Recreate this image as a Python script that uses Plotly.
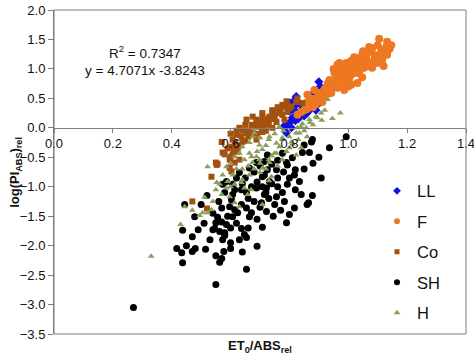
import plotly.graph_objects as go

# ---- data ----
ll_x = [0.900,0.885,0.875,0.890,0.878,0.895,0.868,0.823,0.840,0.827,0.810,0.800,0.807,0.790,0.793,
        0.850,0.861,0.890,0.908,0.834,0.817,0.823,0.800,0.905,0.880,0.870,0.860,0.850,0.815,0.820,
        0.800,0.830,0.895,0.910,0.780]
ll_y = [0.78,0.61,0.53,0.47,0.42,0.39,0.30,0.39,0.30,0.22,0.17,0.085,0.00,-0.085,0.05,
        0.36,0.44,0.30,0.44,0.42,0.47,0.53,0.42,0.70,0.56,0.35,0.25,0.20,0.30,0.12,
        0.28,0.15,0.52,0.60,0.02]

f_x = [1.105,1.132,1.146,1.129,1.071,1.081,1.112,1.122,1.132,1.105,1.064,1.047,1.037,1.061,1.088,
       1.115,1.098,1.071,1.044,1.027,1.014,1.003,1.031,1.054,1.081,0.993,0.970,0.963,0.986,1.010,
       1.031,1.047,1.031,0.970,0.953,0.959,0.976,0.993,1.010,0.946,0.936,0.925,0.963,0.986,0.912,
       0.942,0.919,0.908,0.912,1.003,0.936,0.902,0.890,0.875,0.857,0.840,0.827,0.942,0.885,0.980,
       0.925,0.912,0.861,0.857,1.020,1.050,1.090,1.100,1.120,1.080,1.000,0.990,1.020,1.040,0.960,
       0.950,0.970,0.930,0.900,0.920,0.880,0.870,0.890,0.940,0.980,1.010,1.060,1.140,1.070,0.950,
       0.980,1.000,0.850,0.860,0.880,0.910,0.930,0.960,1.050]
f_y = [1.51,1.46,1.40,1.37,1.37,1.35,1.32,1.27,1.24,1.24,1.27,1.24,1.18,1.15,1.15,
       1.15,1.10,1.10,1.10,1.10,1.03,0.98,1.02,1.02,1.02,1.10,1.10,1.07,0.93,0.90,
       0.93,0.86,0.76,0.95,0.93,0.81,0.78,0.76,0.73,0.76,0.69,0.68,0.68,0.64,0.61,
       0.59,0.53,0.47,0.44,0.81,0.81,0.59,0.50,0.42,0.36,0.27,0.22,0.68,0.64,0.85,
       0.64,0.56,0.56,0.42,1.20,1.30,1.22,1.40,1.05,1.28,1.00,0.88,0.96,0.98,0.88,
       0.70,0.72,0.75,0.55,0.66,0.45,0.50,0.40,0.62,1.02,1.14,1.20,1.34,1.05,1.00,
       0.96,0.70,0.30,0.32,0.35,0.50,0.58,0.80,1.08]

co_x = [0.776,0.823,0.844,0.807,0.766,0.742,0.732,0.708,0.688,0.671,0.698,0.725,0.756,0.783,0.776,
        0.793,0.675,0.708,0.742,0.688,0.654,0.675,0.708,0.742,0.630,0.654,0.637,0.640,0.620,0.607,
        0.603,0.624,0.624,0.607,0.597,0.614,0.597,0.570,0.573,0.553,0.603,0.535,0.688,0.722,0.708,
        0.827,0.793,0.783,0.556,0.600,0.630,0.470,0.520,0.550,0.750,0.760,0.720,0.700,0.680,0.660,
        0.650,0.640,0.660,0.690,0.720,0.730,0.760,0.790,0.800,0.770,0.740,0.710,0.630,0.615,0.590,
        0.580,0.610,0.650,0.620,0.600]
co_y = [0.39,0.44,0.42,0.36,0.30,0.27,0.19,0.19,0.14,0.05,0.02,0.05,0.10,0.14,0.22,
        0.27,-0.085,-0.07,0.00,-0.20,0.14,0.19,0.25,0.30,0.00,-0.085,-0.15,-0.24,-0.12,-0.20,
        -0.32,-0.32,-0.41,-0.46,-0.54,-0.59,-0.68,-0.24,-0.42,-0.63,-0.74,-0.83,0.10,0.085,-0.03,
        0.50,0.39,0.36,-0.61,-0.49,-0.54,-1.25,-1.37,-0.59,0.20,0.35,0.15,0.10,0.02,-0.05,
        0.05,-0.05,-0.15,-0.10,-0.05,0.10,0.25,0.45,0.33,0.28,0.15,0.05,-0.30,-0.25,-0.35,
        -0.45,-0.38,-0.22,-0.05,-0.10]

sh_x = [0.270,0.417,0.434,0.437,0.470,0.480,0.515,0.550,0.550,0.563,0.570,0.577,0.600,0.640,0.654,
        0.580,0.580,0.690,0.444,0.520,0.478,0.437,0.490,0.546,0.550,0.563,0.580,0.586,0.573,0.637,
        0.647,0.654,0.708,0.790,0.800,0.817,0.860,0.878,0.840,0.783,0.776,0.756,0.760,0.793,0.834,
        0.715,0.722,0.705,0.671,0.664,0.654,0.637,0.624,0.607,0.614,0.597,0.603,0.607,0.614,0.607,
        0.573,0.586,0.570,0.556,0.637,0.654,0.671,0.688,0.708,0.732,0.630,0.664,0.688,0.715,0.725,
        0.776,0.810,0.793,0.820,0.756,0.715,0.844,0.868,0.908,0.865,0.722,0.993,0.936,0.850,0.875,
        0.790,0.725,0.708,0.817,0.878,0.540,0.650,0.680,0.700,0.740,0.760,0.780,0.800,0.740,0.690,
        0.660,0.680,0.700,0.730,0.750,0.770,0.690,0.620,0.600,0.530,0.510,0.470,0.630,0.660,0.745,
        0.820,0.850,0.880,0.900,0.760,0.720,0.640,0.620,0.580,0.560,0.540,0.500,0.570,0.590,0.450,
        0.600]
sh_y = [-3.05,-2.05,-2.12,-2.29,-2.10,-2.05,-2.06,-2.66,-2.17,-2.28,-2.22,-2.10,-1.95,-2.11,-2.40,
        -1.83,-1.78,-2.01,-1.30,-1.15,-1.51,-1.74,-1.73,-1.71,-1.61,-1.76,-1.81,-1.64,-1.90,-1.71,
        -1.81,-1.86,-1.69,-1.61,-1.47,-1.36,-1.30,-1.15,-1.13,-1.25,-1.10,-1.17,-1.00,-0.96,-0.91,
        -1.13,-1.42,-1.27,-1.44,-1.51,-1.36,-1.30,-1.44,-1.51,-1.39,-1.34,-1.22,-1.13,-1.05,-0.96,
        -0.96,-0.91,-1.36,-1.52,-1.05,-1.10,-1.00,-1.02,-1.00,-0.91,-0.76,-0.68,-0.59,-0.57,-0.46,
        -0.43,-0.51,-0.63,-0.71,-0.71,-0.80,-0.42,-0.42,-0.85,-1.27,-1.02,-0.15,-0.34,-0.29,-0.24,
        -0.59,-0.71,-0.83,-0.80,-0.20,-1.73,-0.85,-0.75,-0.65,-0.62,-0.55,-0.75,-0.85,-0.95,-0.92,
        -1.20,-1.25,-1.35,-1.20,-1.30,-1.40,-1.55,-1.62,-1.70,-1.90,-1.62,-1.85,-1.90,-1.70,-1.50,
        -1.05,-0.70,-0.60,-0.50,-0.85,-1.10,-0.95,-0.85,-1.10,-1.25,-1.45,-1.30,-1.60,-1.50,-2.00,
        -2.05]

h_x = [0.930,0.973,0.946,0.910,0.890,0.870,0.840,0.823,0.800,0.776,0.756,0.730,0.700,0.675,0.708,
       0.756,0.800,0.776,0.823,0.840,0.730,0.688,0.664,0.640,0.614,0.586,0.573,0.522,0.700,0.664,
       0.908,0.895,0.868,0.844,0.857,0.827,0.834,0.807,0.776,0.732,0.698,0.607,0.630,0.647,0.671,
       0.675,0.698,0.708,0.732,0.749,0.766,0.681,0.664,0.766,0.739,0.640,0.614,0.590,0.586,0.553,
       0.647,0.444,0.430,0.505,0.522,0.535,0.512,0.570,0.614,0.630,0.563,0.597,0.637,0.708,0.658,
       0.330,0.495,0.780,0.750,0.720,0.690,0.740,0.790,0.810,0.860,0.880,0.920,0.850,0.830,0.700,
       0.660,0.620,0.600,0.640,0.680,0.720,0.760,0.550,0.470,0.540,0.600,0.670,0.730]
h_y = [0.48,0.25,0.16,0.13,0.19,0.09,0.02,-0.09,-0.15,-0.20,-0.26,-0.20,-0.17,-0.15,-0.37,
       -0.43,-0.34,-0.54,-0.46,-0.34,-0.54,-0.49,-0.43,-0.32,-0.49,-0.66,-0.80,-0.66,-0.76,-0.80,
       0.25,0.17,0.14,0.07,0.00,0.00,-0.09,-0.24,-0.17,-0.15,-0.29,-0.80,-0.43,-0.54,-0.49,
       -0.59,-0.54,-0.68,-0.59,-0.43,-0.32,-0.085,-0.25,0.02,-0.83,-0.88,-0.96,-0.91,-1.02,-0.93,
       -1.02,-1.34,-1.64,-1.44,-1.44,-1.39,-1.18,-1.13,-1.27,-1.34,-0.96,-1.17,-0.93,-1.30,-1.13,
       -2.18,-1.49,-0.05,-0.10,-0.30,-0.40,-0.48,-0.40,-0.28,-0.15,0.05,0.30,-0.05,-0.20,-0.60,
       -0.65,-0.70,-0.60,-0.70,-0.70,-0.70,-0.65,-1.05,-1.40,-1.25,-1.00,-1.05,-0.90]

series_names = ["LL", "F", "Co", "SH", "H"]
x_ticks = [0.0, 0.2, 0.4, 0.6, 0.8, 1.0, 1.2, 1.4]
y_ticks = [2.0, 1.5, 1.0, 0.5, 0.0, -0.5, -1.0, -1.5, -2.0, -2.5, -3.0, -3.5]
fit_text = "R<sup>2</sup> = 0.7347<br>y = 4.7071x -3.8243"

FONT = "Liberation Sans, Arial, sans-serif"
TXT = "#111111"
AXC = "#7f7f7f"

styles = [
    dict(symbol="diamond", size=7, lsize=6, color="#1010E0"),
    dict(symbol="circle", size=8, lsize=6, color="#EE7722"),
    dict(symbol="square", size=6, lsize=5, color="#A3510F"),
    dict(symbol="circle", size=7, lsize=6, color="#000000"),
    dict(symbol="triangle-up", size=6, lsize=6, color="#8A9F5C"),
]
xs = [ll_x, f_x, co_x, sh_x, h_x]
ys = [ll_y, f_y, co_y, sh_y, h_y]

fig = go.Figure()
for name, x, y, st in zip(series_names, xs, ys, styles):
    fig.add_trace(go.Scatter(
        x=x, y=y, mode="markers", name=name, legendgroup=name, showlegend=False,
        marker=dict(symbol=st["symbol"], size=st["size"], color=st["color"], line=dict(width=0)),
    ))
# legend entries with the small symbols used in the reference legend
for name, st in zip(series_names, styles):
    fig.add_trace(go.Scatter(
        x=[None], y=[None], mode="markers", name=name, legendgroup=name, showlegend=True,
        marker=dict(symbol=st["symbol"], size=st["lsize"], color=st["color"], line=dict(width=0)),
    ))

fig.update_layout(
    width=474, height=354,
    margin=dict(l=54, r=8, t=10, b=20),
    paper_bgcolor="white", plot_bgcolor="white",
    font=dict(family=FONT, size=13, color=TXT),
    showlegend=True,
    legend=dict(x=0.784, y=0.495, xanchor="left", yanchor="top",
                font=dict(family=FONT, size=16.5, color=TXT),
                traceorder="grouped", tracegroupgap=6, bgcolor="rgba(0,0,0,0)"),
    xaxis=dict(range=[0, 1.4], tickvals=x_ticks, tickformat=".1f",
               anchor="free", position=3.5 / 5.5,
               showline=True, linecolor=AXC, linewidth=1,
               ticks="outside", ticklen=4, tickcolor=AXC,
               ticklabeloverflow="allow", automargin=False,
               showgrid=False, zeroline=False,
               tickfont=dict(family=FONT, size=13, color=TXT)),
    yaxis=dict(range=[-3.5, 2.0], tickvals=y_ticks, tickformat=".1f",
               showline=True, linecolor=AXC, linewidth=1,
               ticks="outside", ticklen=5, tickcolor=AXC, automargin=False,
               showgrid=False, zeroline=False,
               tickfont=dict(family=FONT, size=13, color=TXT)),
    shapes=[dict(type="rect", xref="paper", yref="paper", x0=0, x1=1, y0=0, y1=1,
                 line=dict(color=AXC, width=1), fillcolor="rgba(0,0,0,0)", layer="above")],
    annotations=[
        dict(text=fit_text, x=0.308, y=1.15, xref="x", yref="y", showarrow=False,
             align="center", font=dict(family=FONT, size=13.5, color=TXT)),
        dict(text="<b>ET<sub>0</sub>/ABS<sub>rel</sub></b>", x=0.5, y=-0.04, xref="paper", yref="paper",
             showarrow=False, xanchor="center", yanchor="middle",
             font=dict(family=FONT, size=13, color=TXT)),
        dict(text="<b>log(PI<sub>ABS</sub>)<sub>rel</sub></b>", x=-0.095, y=0.5, xref="paper", yref="paper",
             showarrow=False, xanchor="center", yanchor="middle", textangle=-90,
             font=dict(family=FONT, size=13, color=TXT)),
    ],
)

fig.write_html("out.html")
